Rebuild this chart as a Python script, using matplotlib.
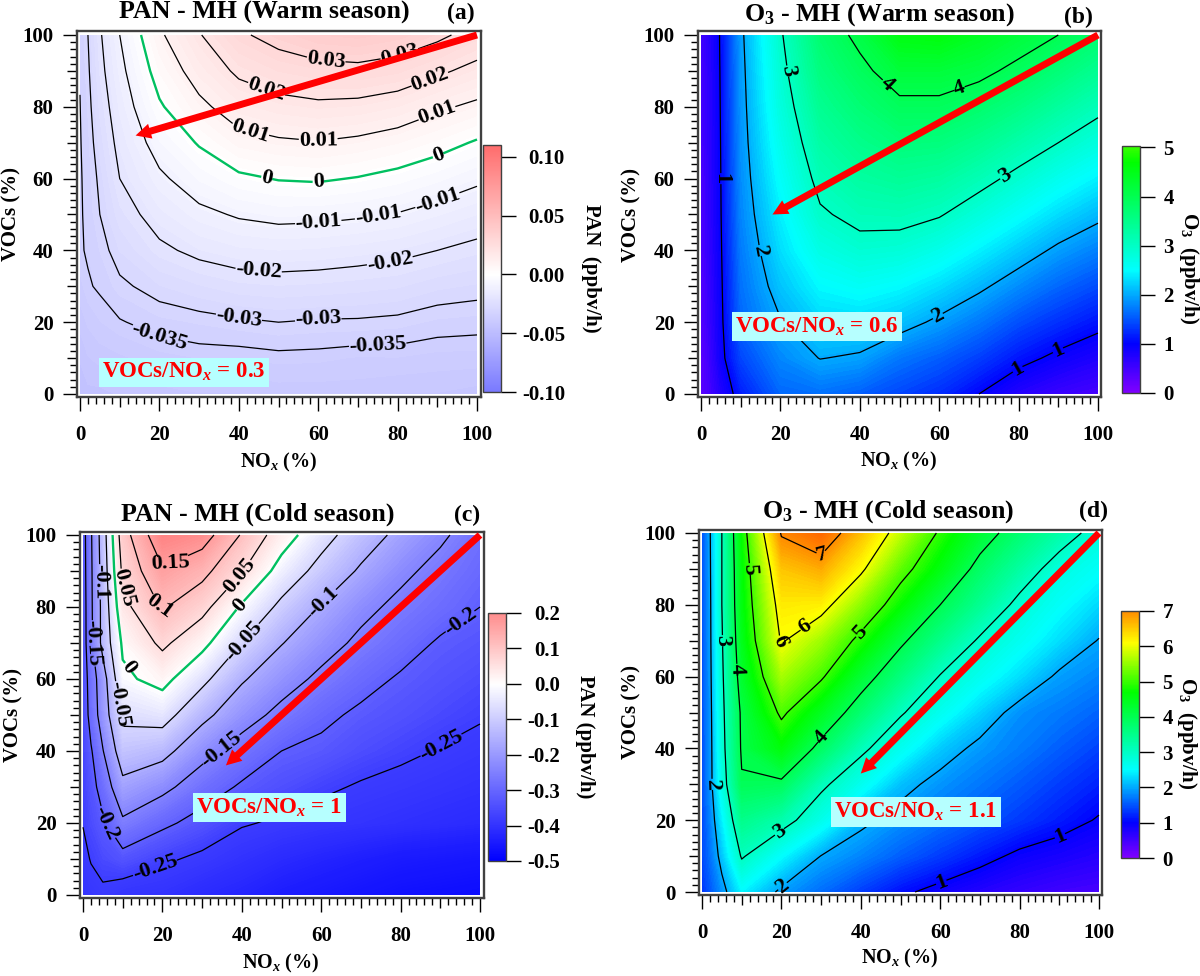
import numpy as np
import matplotlib
matplotlib.use('Agg')
import matplotlib.pyplot as plt
from matplotlib.cm import ScalarMappable
from matplotlib.colors import LinearSegmentedColormap, Normalize
from matplotlib.ticker import MultipleLocator

plt.rcParams['font.family'] = 'Liberation Serif'
plt.rcParams['font.weight'] = 'bold'
plt.rcParams['axes.unicode_minus'] = False
plt.rcParams['mathtext.fontset'] = 'custom'
plt.rcParams['mathtext.rm'] = 'Liberation Serif:bold'
plt.rcParams['mathtext.it'] = 'Liberation Serif:italic:bold'
plt.rcParams['mathtext.bf'] = 'Liberation Serif:bold'

W, H = 1200, 976

# grid of the isopleths
nox = [0, 2, 5, 10, 20, 30, 40, 50, 60, 70, 80, 90, 100]
voc = [0, 10, 20, 30, 40, 50, 60, 70, 80, 90, 100]

# one row per NOx node, VOCs going up
pan_warm = [
    [-.046, -.044, -.041, -.038, -.0355, -.0355, -.0355, -.0353, -.0351, -.0348, -.0345],
    [-.045, -.042, -.039, -.0355, -.0345, -.034, -.0335, -.033, -.032, -.031, -.03],
    [-.045, -.041, -.0372, -.0343, -.0322, -.03, -.0288, -.0265, -.0245, -.0225, -.021],
    [-.044, -.04, -.0354, -.0312, -.0274, -.0237, -.02, -.0175, -.015, -.0125, -.01],
    [-.043, -.038, -.0331, -.0277, -.0216, -.0165, -.0115, -.0063, -.0011, .0038, .0086],
    [-.042, -.037, -.032, -.0254, -.0181, -.0119, -.0056, .0007, .0079, .0141, .0194],
    [-.042, -.037, -.0309, -.0235, -.0162, -.0092, -.0015, .007, .0145, .0216, .0286],
    [-.041, -.0363, -.03, -.0229, -.0156, -.0079, .0004, .0088, .0171, .0252, .0332],
    [-.041, -.0365, -.0306, -.0233, -.016, -.0082, .0009, .0096, .0183, .027, .037],
    [-.041, -.0373, -.0307, -.024, -.0169, -.0091, -.0004, .0083, .0176, .0276, .038],
    [-.042, -.0372, -.0313, -.0248, -.0181, -.0104, -.0024, .0061, .0155, .0258, .036],
    [-.042, -.038, -.0328, -.0269, -.02, -.0129, -.0052, .003, .0114, .0216, .032],
    [-.043, -.0381, -.0333, -.0279, -.0221, -.0155, -.0085, -.0008, .0082, .0173, .0264],
]
o3_warm = [
    [.3, .3, .35, .35, .4, .4, .4, .45, .45, .45, .5],
    [.45, .5, .55, .57, .6, .62, .63, .64, .65, .66, .68],
    [.75, .9, .93, .95, .97, .99, 1, 1.01, 1.02, 1.03, 1.04],
    [1.15, 1.4, 1.6, 1.66, 1.72, 1.78, 1.82, 1.85, 1.87, 1.89, 1.92],
    [1.6, 1.8, 1.98, 2.15, 2.3, 2.42, 2.54, 2.66, 2.77, 2.87, 2.95],
    [1.65, 2.01, 2.25, 2.48, 2.72, 2.95, 3.12, 3.28, 3.44, 3.6, 3.75],
    [1.55, 1.95, 2.27, 2.57, 2.87, 3.11, 3.31, 3.5, 3.7, 3.9, 4.1],
    [1.4, 1.7, 2.14, 2.48, 2.83, 3.13, 3.39, 3.65, 3.91, 4.2, 4.55],
    [1.25, 1.55, 1.93, 2.3, 2.67, 3.03, 3.32, 3.62, 3.91, 4.2, 4.6],
    [1, 1.36, 1.71, 2.07, 2.43, 2.79, 3.13, 3.45, 3.77, 4.1, 4.4],
    [.72, 1.11, 1.46, 1.82, 2.18, 2.54, 2.89, 3.23, 3.57, 3.9, 4.2],
    [.55, .92, 1.27, 1.6, 1.93, 2.29, 2.64, 3, 3.33, 3.67, 4],
    [.45, .77, 1.1, 1.43, 1.75, 2.08, 2.42, 2.77, 3.1, 3.43, 3.75],
]
# one row per VOCs node, from 100 down to 0, NOx going right
pan_cold = [
    [-.22, -.155, -.075, .078, .19, .173, .096, .023, -.032, -.076, -.112, -.142, -.175],
    [-.222, -.157, -.08, .06, .145, .115, .053, -.019, -.066, -.106, -.139, -.165, -.187],
    [-.225, -.158, -.085, .035, .105, .066, -.006, -.061, -.103, -.137, -.162, -.181, -.2],
    [-.225, -.16, -.085, .007, .06, .013, -.05, -.098, -.131, -.16, -.182, -.205, -.215],
    [-.23, -.175, -.122, -.008, .014, -.038, -.095, -.13, -.16, -.185, -.205, -.218, -.23],
    [-.235, -.18, -.127, -.04, -.031, -.0875, -.13, -.163, -.19, -.208, -.22, -.233, -.245],
    [-.24, -.205, -.152, -.072, -.085, -.134, -.17, -.2, -.21, -.227, -.24, -.253, -.265],
    [-.243, -.218, -.18, -.113, -.1375, -.176, -.206, -.224, -.241, -.255, -.265, -.275, -.285],
    [-.248, -.23, -.207, -.158, -.19, -.217, -.245, -.258, -.27, -.28, -.29, -.3, -.31],
    [-.265, -.247, -.232, -.217, -.242, -.26, -.285, -.31, -.33, -.35, -.37, -.38, -.39],
    [-.28, -.27, -.26, -.277, -.285, -.31, -.33, -.36, -.38, -.4, -.42, -.43, -.44],
]
o3_cold = [
    [1.45, 1.97, 3, 4.7, 7.05, 7.4, 6.6, 5.75, 4.92, 4.26, 3.72, 3.25, 2.8],
    [1.45, 1.95, 3, 4.6, 6.55, 6.75, 6.1, 5.2, 4.55, 3.82, 3.29, 2.77, 2.55],
    [1.45, 1.93, 3, 4.55, 6.25, 6.2, 5.45, 4.7, 4, 3.43, 2.86, 2.55, 2.27],
    [1.45, 1.92, 2.95, 4.45, 6.05, 5.55, 4.85, 4.1, 3.5, 2.93, 2.62, 2.3, 1.98],
    [1.45, 1.9, 2.9, 4.3, 5.6, 5.07, 4.25, 3.6, 2.97, 2.63, 2.3, 1.93, 1.78],
    [1.45, 1.87, 2.85, 4.1, 5.1, 4.42, 3.72, 3.05, 2.63, 2.24, 1.85, 1.72, 1.58],
    [1.45, 1.85, 2.8, 4.07, 4.6, 3.84, 3.11, 2.63, 2.19, 1.9, 1.73, 1.55, 1.38],
    [1.45, 1.85, 2.7, 3.95, 3.9, 3.1, 2.63, 2.13, 1.87, 1.7, 1.53, 1.35, 1.18],
    [1.4, 1.75, 2.4, 3.5, 3.2, 2.67, 2.09, 1.85, 1.67, 1.5, 1.33, 1.15, .97],
    [1.4, 1.65, 2.15, 3.05, 2.5, 1.99, 1.78, 1.55, 1.34, 1.13, .92, .82, .72],
    [1.3, 1.5, 1.85, 2.45, 1.92, 1.63, 1.35, 1.07, .88, .72, .6, .5, .45],
]

levels_a = [-.035, -.03, -.02, -.01, 0, .01, .02, .03]
levels_b = [1, 2, 3, 4]
levels_c = [-.25, -.2, -.15, -.1, -.05, 0, .05, .1, .15]
levels_d = [1, 2, 3, 4, 5, 6, 7]

ticks_a = [-.10, -.05, 0, .05, .10]
ticks_b = [0, 1, 2, 3, 4, 5]
ticks_c = [-.5, -.4, -.3, -.2, -.1, 0, .1, .2]
ticks_d = [0, 1, 2, 3, 4, 5, 6, 7]


def make_cmap(stops, lo, hi):
    pairs = [((v - lo) / (hi - lo), c) for v, c in stops]
    return LinearSegmentedColormap.from_list('c', pairs, N=512)


rainbow = [(0, '#8000ff'), (1, '#0000ff'), (2.5, '#00ffff'), (4.7, '#00ff00'),
           (6.1, '#ffff00'), (7, '#ff8c00'), (7.5, '#ff6000')]
cm_o3 = make_cmap(rainbow, 0, 7.5)
cm_warm = make_cmap([(-.19, '#0000ff'), (0, '#ffffff'), (.19, '#ff0000')], -.19, .19)
cm_cold = make_cmap([(-.5, '#0000ff'), (-.35, '#1e1eff'), (-.25, '#3c3cff'),
                     (-.15, '#8282ff'), (0, '#ffffff'), (.2, '#ff7d7d')], -.5, .2)
cm_cold_bar = make_cmap([(-.5, '#0000ff'), (0, '#ffffff'), (.2, '#ff8c8c')], -.5, .2)

fig = plt.figure(figsize=(W / 100, H / 100), dpi=100)


def px_rect(left, top, right, bottom):
    return [left / W, 1 - bottom / H, (right - left) / W, (bottom - top) / H]


def put(x, y, s, size, **kw):
    fig.text(x / W, 1 - y / H, s, fontsize=size, ha='center', va='center', **kw)


def panel(z, levels, ticks, cmap, norm, bar_cmap, bar_norm, bar_range, frame, x0, x100, y0, y100,
          label_pos, tip, ratio, ratio_xy, bar_rect, bar_pad, bar_right):
    left, top, right, bottom = frame
    ax = fig.add_axes(px_rect(left, top, right, bottom))
    sx = (x100 - x0) / 100
    sy = (y0 - y100) / 100
    ax.set_xlim((left - x0) / sx, (right - x0) / sx)
    ax.set_ylim((y0 - bottom) / sy, (y0 - top) / sy)

    fill = np.linspace(norm.vmin, norm.vmax, 160)
    ax.contourf(nox, voc, z, levels=fill, cmap=cmap, norm=norm, extend='both')
    colors = ['#00c060' if v == 0 else 'black' for v in levels]
    widths = [1.7 if v == 0 else 0.9 for v in levels]
    cs = ax.contour(nox, voc, z, levels=levels, colors=colors, linewidths=widths)
    ax.clabel(cs, fmt=lambda v: f'{v:g}', manual=label_pos, fontsize=16, inline=True,
              inline_spacing=0)
    for t in cs.labelTexts:
        t.set_color('black')

    ax.annotate('', xy=tip, xytext=(100, 100), annotation_clip=False, zorder=6,
                arrowprops=dict(facecolor='#ff0000', edgecolor='none', width=5,
                                headwidth=11, headlength=11, shrink=0))
    ax.text(ratio_xy[0], ratio_xy[1], ratio, color='#ff0000', fontsize=16.5, ha='center', va='center',
            zorder=7, bbox=dict(boxstyle='square,pad=0.15', fc='#b6ffff', ec='none'))

    ax.set_xticks([0, 20, 40, 60, 80, 100])
    ax.set_yticks([0, 20, 40, 60, 80, 100])
    ax.xaxis.set_minor_locator(MultipleLocator(2))
    ax.yaxis.set_minor_locator(MultipleLocator(2))
    ax.tick_params(which='major', length=10, width=1, labelsize=15)
    ax.tick_params(axis='x', which='major', pad=10)
    ax.tick_params(axis='y', which='major', pad=7)
    ax.tick_params(which='minor', length=5, width=1)
    for axis in (ax.xaxis, ax.yaxis):
        locs = axis.get_minorticklocs()
        for loc, tick in zip(locs, axis.get_minor_ticks(len(locs))):
            if round(loc) % 10 == 0:
                tick.tick1line.set_markersize(7.5)
    for sp in ax.spines.values():
        sp.set_linewidth(1.7)
        sp.set_color('#404040')

    cax = fig.add_axes(px_rect(*bar_rect))
    sm = ScalarMappable(norm=bar_norm, cmap=bar_cmap)
    cb = fig.colorbar(sm, cax=cax, ticks=ticks, boundaries=np.linspace(bar_range[0], bar_range[1], 300))
    cb.outline.set_linewidth(1)
    cb.outline.set_edgecolor('#404040')
    cb.ax.tick_params(length=11, width=1, labelsize=15, pad=bar_pad)
    cb.ax.minorticks_off()
    if bar_right:
        for t in cb.ax.get_yticklabels():
            t.set_ha('right')
    return ax


panel(np.array(pan_warm).T, levels_a, ticks_a, cm_warm, Normalize(-.19, .19), cm_warm, Normalize(-.19, .19),
      (-.10, .11), (77, 31, 481, 397), 80, 477, 394, 35,
      [(62, 93.5), (80, 96), (47, 85), (88, 88), (43, 74), (60, 70.5), (90, 78), (47, 60), (60, 59), (90, 67),
       (60, 48), (75, 50), (90, 54), (45, 34.5), (78, 37.5), (40, 21), (60, 21), (20, 16), (75, 13.5)],
      (14, 72), 'VOCs/NO$_{x}$ = 0.3', (26.2, 6.1), (483, 145, 501, 392), 35, True)
panel(np.array(o3_warm).T, levels_b, ticks_b, cm_o3, Normalize(0, 7.5), cm_o3, Normalize(0, 7.5),
      (0, 5.03), (698, 31, 1101, 397), 701, 1098, 394, 35,
      [(22, 90), (46, 85.5), (65, 85.5), (77, 60), (5, 60), (15, 40), (60, 21), (80, 6.5), (90, 12)],
      (18, 50), 'VOCs/NO$_{x}$ = 0.6', (29.2, 18.7), (1122, 146, 1140, 393), 6, False)
panel(np.array(pan_cold)[::-1], levels_c, ticks_c, cm_cold, Normalize(-.5, .2), cm_cold_bar, Normalize(-.5, .2),
      (-.5, .2), (80, 532, 484, 898), 83, 480, 895, 535,
      [(22, 92), (19, 80), (9.5, 85), (39, 89), (40, 80), (10, 62), (41, 70), (9, 53), (60, 82), (4.5, 87),
       (34.5, 41), (3.3, 70), (95, 76), (5.7, 20), (18, 8), (90, 42)],
      (36, 36), 'VOCs/NO$_{x}$ = 1', (46.9, 24.2), (488, 613, 506, 861), 28, True)
panel(np.array(o3_cold)[::-1], levels_d, ticks_d, cm_o3, Normalize(0, 7.5), cm_o3, Normalize(0, 7.5),
      (0, 7), (699, 530, 1102, 895), 702, 1099, 892, 533,
      [(30, 94), (20, 70), (26.5, 73), (11.4, 90), (40, 72), (8.4, 62), (30, 43), (5.1, 70), (20, 16), (2.7, 30),
       (20, 2), (60, 3.5), (90, 16)],
      (40, 33), 'VOCs/NO$_{x}$ = 1.1', (53.9, 22.3), (1121, 611, 1139, 858), 6, False)

put(264, 12, 'PAN - MH (Warm season)', 18.6)
put(461, 13, '(a)', 17)
put(879, 15, 'O$_{3}$ - MH (Warm season)', 18.6)
put(1078, 17, '(b)', 17)
put(258, 514, 'PAN - MH (Cold season)', 18.6)
put(467, 515, '(c)', 17)
put(888, 512, 'O$_{3}$ - MH (Cold season)', 18.6)
put(1093, 511, '(d)', 17)

for x, y in [(279, 462), (899, 461), (281, 963), (900, 958)]:
    put(x, y, 'NO$_{x}$ (%)', 14.5)
for x, y in [(11, 214), (631, 215), (13, 715), (631, 712)]:
    put(x, y, 'VOCs (%)', 15, rotation=90)
put(591, 268, 'PAN  (ppbv/h)', 15, rotation=-90)
put(1189, 268, 'O$_{3}$  (ppbv/h)', 15, rotation=-90)
put(585, 737, 'PAN (ppbv/h)', 15, rotation=-90)
put(1187, 733, 'O$_{3}$  (ppbv/h)', 15, rotation=-90)

fig.savefig('out.png', dpi=100)
